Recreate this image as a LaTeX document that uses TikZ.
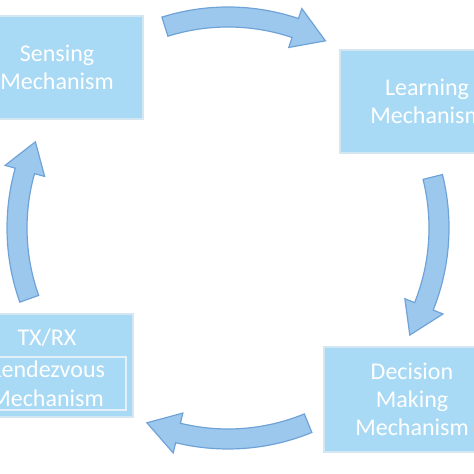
\documentclass[tikz,border=0pt]{standalone}
\usepackage{fontspec}
\setmainfont{Carlito}
\definecolor{boxfill}{HTML}{A8DAF5}
\definecolor{boxline}{HTML}{D3E6F1}
\definecolor{innerline}{HTML}{E3F0F8}
\definecolor{arrfill}{HTML}{9DC8EE}
\definecolor{arrline}{HTML}{6FA3D8}
\newcommand\blockarc[3]{%
  \path[arrfill style]
    (#1:221) arc[start angle=#1, end angle=#2, radius=221]
    -- (#2:231.5) -- (#3:211) -- (#2:190.5) -- (#2:201)
    arc[start angle=#2, end angle=#1, radius=201] -- cycle;}
\begin{document}
\begin{tikzpicture}[x=1bp, y=1bp,
  mbox/.style={rectangle, fill=boxfill, draw=boxline, line width=1.5bp,
    text=white, align=center, inner sep=0pt,
    font=\fontsize{24bp}{28bp}\selectfont},
  innerbox/.style={rectangle, draw=innerline, line width=1.5bp,
    text=white, align=center, inner sep=0pt,
    font=\fontsize{24bp}{29bp}\selectfont},
  label/.style={text=white, inner sep=0pt, font=\fontsize{24bp}{28bp}\selectfont},
  arrfill style/.style={fill=arrfill, draw=arrline, line width=1.2bp, line join=miter}]
\useasboundingbox (0,0) rectangle (474,474);
\clip (0,0) rectangle (474,474);
\fill[white] (0,0) rectangle (474,474);
\coordinate (C) at (228,246);
\node[mbox, minimum width=172bp, minimum height=103bp] (sensing) at (57,406.5) {Sensing\\Mechanism};
\node[mbox, minimum width=174bp, minimum height=103bp] (learning) at (427,372.5) {Learning\\Mechanism};
\node[mbox, minimum width=176bp, minimum height=105bp] (decision) at (412,74.5) {Decision\\Making\\Mechanism};
\node[mbox, minimum width=172bp, minimum height=103bp] (txrx) at (47,108.5) {};
\node[label, anchor=base] (txrxlabel) at (47,128) {TX/RX};
\node[innerbox, minimum width=158bp, minimum height=53bp] (rendezvous) at (47,90.5) {Rendezvous\\Mechanism};
\begin{scope}[shift={(C)}]
  \blockarc{107.4}{71.4}{62.5}
  \blockarc{14}{-21.8}{-30.5}
  \blockarc{-67.7}{-103.7}{-112.6}
  \blockarc{199.6}{164.3}{155.9}
\end{scope}
\end{tikzpicture}
\end{document}
